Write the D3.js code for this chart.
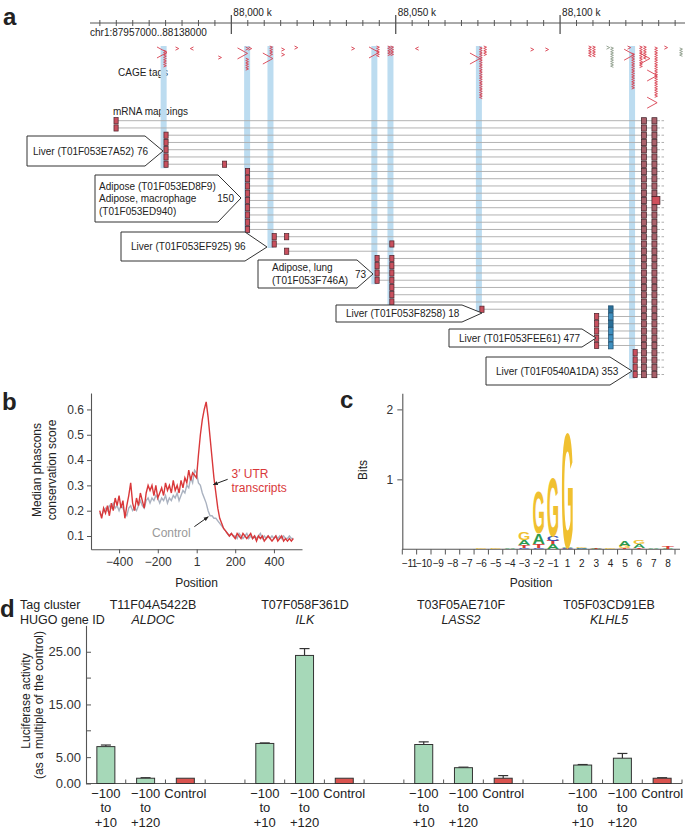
<!DOCTYPE html>
<html>
<head>
<meta charset="utf-8">
<script src="https://cdn.jsdelivr.net/npm/d3@7"></script>
<style>
  body { margin: 0; background: #fff; }
  svg text { font-family: "Liberation Sans", Arial, Helvetica, sans-serif; fill: #222; }
</style>
</head>
<body>
<div id="chart"></div>
<script>

//////////////////////////////
// panel a: genome browser  //
//////////////////////////////

var trackRange = [87957, 88138]; // kb
var rulerMajor = [88000, 88050, 88100];
var tssBands = [87979.4, 88004.8, 88011.9, 88043.5, 88048.4, 88075.3, 88121.9];
var tssBandLastRow = [6, 15, 17, 22, 25, 26, 35];

// 5' exon starts (kb) for every mRNA row, top to bottom
var mrnaRows = [
    [87964.9], [87964.9],
    [87980.1], [87980.1], [87980.1], [87980.1], [87980.1, 87997.9],
    [88004.9], [88004.9], [88004.9], [88004.9], [88004.9], [88004.9], [88004.9], [88004.9], [88004.9],
    [88013.0, 88016.8], [88013.0, 88048.8], [88016.8],
    [88044.3, 88048.8], [88044.3, 88048.8], [88044.3, 88048.8], [88044.3, 88048.8],
    [88048.8], [88048.8], [88048.8],
    [88076.2],
    [88111.1], [88111.1], [88111.1], [88111.1], [88111.1],
    [88122.8], [88122.8], [88122.8], [88122.8]
];
var threePrimeExons = [88125.5, 88128.7];
var rowEndKb = 88130.4;
var blueExonKb = 88115.4;
var blueExonRows = [26, 27, 28, 29, 30, 31];
var wideExonRow = 11;

// CAGE tags: [kb, stack level, kind, length, tone]
var cageTags = [
    [87978.9, 0.3, 'B'], [87979.8, 1.3, 'Z', 5.5], [87983.5, 0.3, '>'], [87988.0, 0.3, '<'],
    [87996.5, 3.1, '>'], [88003.4, 0.6, 'B'], [88004.8, 0.3, '>'], [88005.7, 0.3, '>'],
    [88004.8, 3.8, 'Z', 3.8], [88011.1, 2.2, 'B'], [88012.1, 0, 'Z', 3], [88015.7, 0.6, '>'],
    [88015.7, 2.2, '>'], [88019.7, 0, '>'], [88037.0, 0.3, '>'], [88043.4, 0.3, 'B'],
    [88044.6, 0, 'Z', 3.5], [88048.0, 0, 'Z', 3], [88048.9, 0, 'Z', 3], [88056.5, 0.3, '<'],
    [88074.1, 2.2, 'B'], [88075.9, 0.3, 'Z', 16.5], [88077.2, 0, 'Z', 3], [88091.5, 0.6, '>'],
    [88096.0, 0.6, '>'], [88109.1, 0, 'Z', 3.5], [88110.3, 0, 'Z', 3.5], [88114.6, 0, '>', 0, 'g'],
    [88115.8, 0.3, 'Z', 6.5, 'g'], [88121.0, 0, '>'], [88121.0, 1, 'B'], [88122.2, 2.2, 'Z', 11.5],
    [88124.6, 0, 'Z', 7], [88125.8, 0, 'Z', 4.5], [88125.8, 2.2, 'B'], [88128.0, 7.5, 'B'],
    [88129.2, 0.3, 'Z', 16], [88128.0, 16, 'B'], [88132.2, 0, '>'], [88136.8, 0.6, 'Z', 3, 'g']
];

var calloutLines = [
    ["Liver (T01F053E7A52) 76"],
    ["Adipose (T01F053ED8F9)", "Adipose, macrophage", "(T01F053ED940)"],
    ["Liver (T01F053EF925) 96"],
    ["Adipose, lung", "(T01F053F746A)"],
    ["Liver (T01F053F8258) 18"],
    ["Liver (T01F053FEE61) 477"],
    ["Liver (T01F0540A1DA) 353"]
];
var calloutCounts = [null, "150", null, "73", null, null, null];
// layout of the arrow boxes: left, top, bottom, shoulder x, tip x, tip y
var calloutBoxes = [
    [27, 136, 166, 145, 163, 151],
    [95, 175, 222, 218, 241, 198],
    [121, 232, 261, 245, 267, 247],
    [258, 260, 288, 357, 373, 274],
    [336, 305, 322, 462, 482, 313],
    [449, 329, 347, 582, 596, 338],
    [486, 357, 385, 610, 632, 371]
];

//////////////////////////////
// panel b: conservation     //
//////////////////////////////
var phastPositions = d3.range(-500, 501, 10);
var utrScore = [
    0.20, 0.17, 0.21, 0.19, 0.22, 0.18, 0.23, 0.20, 0.25, 0.22,
    0.26, 0.21, 0.24, 0.17, 0.22, 0.26, 0.31, 0.23, 0.20, 0.25,
    0.22, 0.27, 0.24, 0.21, 0.27, 0.30, 0.28, 0.30, 0.26, 0.30,
    0.25, 0.27, 0.29, 0.26, 0.31, 0.28, 0.30, 0.27, 0.32, 0.28,
    0.30, 0.27, 0.32, 0.29, 0.33, 0.31, 0.36, 0.32, 0.35, 0.34,
    0.33, 0.42, 0.50, 0.56, 0.60, 0.63, 0.57, 0.49, 0.41, 0.33,
    0.27, 0.21, 0.17, 0.15, 0.13, 0.12, 0.11, 0.10, 0.11, 0.10,
    0.09, 0.11, 0.10, 0.09, 0.11, 0.10, 0.09, 0.10, 0.11, 0.09,
    0.10, 0.08, 0.10, 0.09, 0.10, 0.08, 0.09, 0.10, 0.09, 0.08,
    0.09, 0.10, 0.08, 0.09, 0.10, 0.08, 0.09, 0.08, 0.09, 0.08,
    0.09
];
var controlScore = [
    0.19, 0.18, 0.20, 0.21, 0.20, 0.22, 0.21, 0.23, 0.21, 0.22,
    0.20, 0.22, 0.21, 0.19, 0.18, 0.21, 0.22, 0.20, 0.21, 0.20,
    0.22, 0.24, 0.22, 0.21, 0.24, 0.25, 0.23, 0.25, 0.24, 0.26,
    0.25, 0.23, 0.25, 0.24, 0.26, 0.23, 0.25, 0.24, 0.26, 0.25,
    0.27, 0.24, 0.26, 0.28, 0.27, 0.30, 0.29, 0.33, 0.31, 0.36,
    0.35, 0.31, 0.30, 0.27, 0.25, 0.23, 0.20, 0.18, 0.18, 0.17,
    0.17, 0.16, 0.15, 0.14, 0.13, 0.12, 0.11, 0.10, 0.11, 0.10,
    0.10, 0.09, 0.11, 0.10, 0.09, 0.10, 0.11, 0.09, 0.10, 0.09,
    0.10, 0.09, 0.10, 0.11, 0.09, 0.10, 0.09, 0.10, 0.09, 0.10,
    0.09, 0.10, 0.09, 0.10, 0.09, 0.10, 0.09, 0.09, 0.10, 0.09,
    0.09
];
var phastYTicks = [0.1, 0.2, 0.3, 0.4, 0.5, 0.6];
var phastXTicks = [-400, -200, 1, 200, 400];

//////////////////////////////
// panel c: sequence logo    //
//////////////////////////////
var logoPositions = [-11, -10, -9, -8, -7, -6, -5, -4, -3, -2, -1, 1, 2, 3, 4, 5, 6, 7, 8];
// letters bottom -> top, [base, bits]
var logoStacks = [
    [], [], [], [], [],
    [['G', 0.01]], [['G', 0.01]], [['A', 0.01]],
    [['C', 0.02], ['T', 0.04], ['A', 0.08], ['G', 0.11]],
    [['C', 0.02], ['T', 0.06], ['A', 0.16], ['G', 0.61]],
    [['A', 0.07], ['T', 0.05], ['C', 0.07], ['G', 0.87]],
    [['T', 0.01], ['C', 0.01], ['A', 0.02], ['G', 1.71]],
    [['C', 0.01], ['A', 0.01], ['G', 0.02]],
    [['T', 0.01], ['A', 0.01]],
    [['G', 0.008]],
    [['T', 0.02], ['G', 0.03], ['A', 0.07]],
    [['T', 0.02], ['A', 0.05], ['G', 0.06]],
    [['A', 0.01]],
    [['A', 0.01], ['T', 0.03]]
];

//////////////////////////////
// panel d: luciferase       //
//////////////////////////////
var tagClusters = ["T11F04A5422B", "T07F058F361D", "T03F05AE710F", "T05F03CD91EB"];
var geneIds = ["ALDOC", "ILK", "LASS2", "KLHL5"];
var constructLabels = [["\u2212100", "to", "+10"], ["\u2212100", "to", "+120"], ["Control"]];
var luciferaseMean = [[7.0, 1.0, 1.0], [7.6, 24.3, 1.0], [7.4, 3.0, 1.0], [3.5, 4.8, 1.0]];
var luciferaseErr = [[0.3, 0.1, 0], [0.1, 1.3, 0], [0.5, 0.1, 0.5], [0.1, 0.9, 0.1]];
var lucLabelTicks = [0, 5, 15, 25];
var lucMinorTicks = [10, 20];


/////////////////////////////////////////////////////////////////////////

var width = 685, height = 829;
var svg = d3.select("#chart").append("svg")
    .attr("width", width)
    .attr("height", height);

var axisColor = "#555";
var minus = function(v) { return v < 0 ? "\u2212" + Math.abs(v) : String(v); };

function panelLetter(t, x, y) {
    svg.append("text").attr("x", x).attr("y", y).text(t)
        .attr("font-size", 24).attr("font-weight", "bold");
}
panelLetter("a", 3, 25);
panelLetter("b", 2, 410);
panelLetter("c", 340, 408);
panelLetter("d", 0, 617);

// ---------------- panel a ----------------
var ga = svg.append("g");
var xg = d3.scaleLinear().domain(trackRange).range([90, 685]);
var yRow = d3.scaleLinear().domain([0, 35]).range([120.7, 374.5]);
var cageY = d3.scaleLinear().domain([0, 1]).range([46, 49.2]);

// ruler
ga.append("line")
    .attr("x1", xg(trackRange[0])).attr("x2", xg(trackRange[1]))
    .attr("y1", 23).attr("y2", 23)
    .attr("stroke", axisColor);
var minorTicks = d3.range(87960, trackRange[1], 5).filter(function(v) { return rulerMajor.indexOf(v) < 0; });
ga.selectAll("line.minor").data(minorTicks).enter().append("line")
    .attr("x1", xg).attr("x2", xg).attr("y1", 20).attr("y2", 26)
    .attr("stroke", axisColor);
ga.selectAll("line.major").data(rulerMajor).enter().append("line")
    .attr("x1", xg).attr("x2", xg).attr("y1", 15).attr("y2", 34)
    .attr("stroke", axisColor).attr("stroke-width", 1.3);
ga.selectAll("text.major").data(rulerMajor).enter().append("text")
    .attr("x", function(d) { return xg(d) + 2; }).attr("y", 16)
    .attr("font-size", 10)
    .text(function(d) { return d3.format(",")(d) + " k"; });
ga.append("text").attr("x", 90).attr("y", 36).attr("font-size", 10)
    .text("chr1:" + trackRange[0] + "000.." + trackRange[1] + "000");

ga.append("text").attr("x", 118).attr("y", 75.5).attr("font-size", 10).text("CAGE tags");
ga.append("text").attr("x", 113).attr("y", 114.5).attr("font-size", 10).text("mRNA mappings");

// TSS bands
ga.selectAll("rect.band").data(tssBands).enter().append("rect")
    .attr("x", function(d) { return xg(d) - 3; })
    .attr("y", 46)
    .attr("width", 6)
    .attr("height", function(d, i) { return yRow(tssBandLastRow[i]) + 4 - 46; })
    .attr("fill", "#bcdcf0");

// row lines
mrnaRows.forEach(function(row, i) {
    var y = yRow(i);
    ga.append("line")
        .attr("x1", xg(row[0])).attr("x2", xg(rowEndKb))
        .attr("y1", y).attr("y2", y)
        .attr("stroke", "#aaa").attr("stroke-width", 0.9);
    ga.append("line")
        .attr("x1", xg(rowEndKb) + 1.5).attr("x2", xg(rowEndKb) + 4)
        .attr("y1", y).attr("y2", y)
        .attr("stroke", "#999").attr("stroke-width", 0.8);
});

// 3' exons (shared)
mrnaRows.forEach(function(row, i) {
    var y = yRow(i);
    threePrimeExons.forEach(function(kb, j) {
        var wide = (j == 1 && i == wideExonRow);
        ga.append("rect")
            .attr("x", xg(kb) - 2.5).attr("y", y - (wide ? 4 : 3))
            .attr("width", wide ? 8 : 5).attr("height", wide ? 8 : 6.2)
            .attr("fill", wide ? "#d0505c" : "#a9606a")
            .attr("stroke", "#3b1b22").attr("stroke-width", 0.7);
    });
});

// blue exon
blueExonRows.forEach(function(r) {
    ga.append("rect")
        .attr("x", xg(blueExonKb) - 2.2).attr("y", yRow(r) - 3.4)
        .attr("width", 4.6).attr("height", 6.8)
        .attr("fill", (r == 26 || r == 28) ? "#2a6f98" : "#3f8fbf")
        .attr("stroke", "#1b4b6b").attr("stroke-width", 0.7);
});

// 5' exons
mrnaRows.forEach(function(row, i) {
    var y = yRow(i);
    row.forEach(function(kb) {
        ga.append("rect")
            .attr("x", xg(kb) - 2).attr("y", y - 3.1)
            .attr("width", 4.2).attr("height", 6.2)
            .attr("fill", "#c8505e")
            .attr("stroke", "#4b2028").attr("stroke-width", 0.7);
    });
});

// CAGE tags
cageTags.forEach(function(t) {
    var x = xg(t[0]), y = cageY(t[1]), kind = t[2];
    var col = t[4] == 'g' ? "#8d9c8a" : "#d8404f";
    var p;
    if (kind == 'B') {
        p = "M" + (x - 5) + "," + y + "L" + (x + 5) + "," + (y + 5.5) + "L" + (x - 5) + "," + (y + 11);
    } else if (kind == '>') {
        p = "M" + (x - 1.6) + "," + y + "L" + (x + 1.6) + "," + (y + 1.6) + "L" + (x - 1.6) + "," + (y + 3.2);
    } else if (kind == '<') {
        p = "M" + (x + 1.6) + "," + y + "L" + (x - 1.6) + "," + (y + 1.6) + "L" + (x + 1.6) + "," + (y + 3.2);
    } else {
        var y1 = cageY(t[1] + t[3]);
        var pts = [];
        for (var yy = y, k = 0; yy <= y1; yy += 1.2, k++) {
            pts.push([x + (k % 2 ? 1.4 : -1.4), yy]);
        }
        p = d3.line()(pts);
    }
    ga.append("path").attr("d", p)
        .attr("fill", "none").attr("stroke", col).attr("stroke-width", 0.9);
});

// callouts
calloutBoxes.forEach(function(b, i) {
    var left = b[0], top = b[1], bottom = b[2], sh = b[3], tx = b[4], ty = b[5];
    ga.append("path")
        .attr("d", "M" + left + "," + top + "L" + sh + "," + top + "L" + tx + "," + ty +
            "L" + sh + "," + bottom + "L" + left + "," + bottom + "Z")
        .attr("fill", "#fff").attr("stroke", "#333").attr("stroke-width", 1);
    var lines = calloutLines[i];
    var mid = (top + bottom) / 2;
    lines.forEach(function(l, j) {
        ga.append("text")
            .attr("x", left + (lines.length > 1 ? 4 + (i == 3 ? 10 : 0) : (i == 0 ? 6 : 10)))
            .attr("y", mid + (j - (lines.length - 1) / 2) * 12.5 + 3.6)
            .attr("font-size", 10)
            .text(l);
    });
    if (calloutCounts[i]) {
        ga.append("text")
            .attr("x", tx - 7).attr("y", ty + 3.6)
            .attr("text-anchor", "end").attr("font-size", 10)
            .text(calloutCounts[i]);
    }
});

// ---------------- panel b ----------------
var gb = svg.append("g");
var xb = d3.scaleLinear().domain([-545, 545]).range([91, 302]);
var yb = d3.scaleLinear().domain([0.0475, 0.665]).range([549.3, 393]);

function styleAxis(g, fs) {
    g.select(".domain").attr("stroke", axisColor).attr("stroke-width", 1.1);
    g.selectAll(".tick line").attr("stroke", axisColor);
    g.selectAll(".tick text").attr("font-size", fs).style("fill", "#333");
}

gb.append("g").attr("transform", "translate(91,0)")
    .call(d3.axisLeft(yb).tickValues(phastYTicks).tickSize(4).tickSizeOuter(0).tickPadding(3)
        .tickFormat(d3.format(".1f")))
    .call(styleAxis, 12);
gb.append("g").attr("transform", "translate(0,549.3)")
    .call(d3.axisBottom(xb).tickValues(phastXTicks).tickSize(4).tickSizeOuter(0).tickPadding(4)
        .tickFormat(minus))
    .call(styleAxis, 12);

var phastLine = d3.line()
    .x(function(d, i) { return xb(phastPositions[i]); })
    .y(function(d) { return yb(d); });
gb.append("path").datum(controlScore).attr("d", phastLine)
    .attr("fill", "none").attr("stroke", "#aab2c0").attr("stroke-width", 1.4);
gb.append("path").datum(utrScore).attr("d", phastLine)
    .attr("fill", "none").attr("stroke", "#d9383a").attr("stroke-width", 1.4);

svg.append("defs").append("marker")
    .attr("id", "arr").attr("viewBox", "0 0 10 10").attr("refX", 9).attr("refY", 5)
    .attr("markerWidth", 5).attr("markerHeight", 5).attr("orient", "auto")
    .append("path").attr("d", "M0,1L10,5L0,9Z").attr("fill", "#222");

gb.append("line").attr("x1", xb(161)).attr("y1", yb(0.324)).attr("x2", xb(87)).attr("y2", yb(0.303))
    .attr("stroke", "#222").attr("marker-end", "url(#arr)");
gb.append("line").attr("x1", xb(-11)).attr("y1", yb(0.137)).attr("x2", xb(61)).attr("y2", yb(0.176))
    .attr("stroke", "#222").attr("marker-end", "url(#arr)");
gb.append("text").attr("x", 231.5).attr("y", 477.5).attr("font-size", 12).style("fill", "#d9383a").text("3\u2032 UTR");
gb.append("text").attr("x", 231.5).attr("y", 491.5).attr("font-size", 12).style("fill", "#d9383a").text("transcripts");
gb.append("text").attr("x", 152).attr("y", 537).attr("font-size", 12).style("fill", "#999").text("Control");

gb.append("text").attr("text-anchor", "middle").attr("font-size", 12)
    .attr("transform", "translate(41,470) rotate(-90)").text("Median phascons");
gb.append("text").attr("text-anchor", "middle").attr("font-size", 12)
    .attr("transform", "translate(56,470) rotate(-90)").text("conservation score");
gb.append("text").attr("x", 196.5).attr("y", 587).attr("text-anchor", "middle").attr("font-size", 12).text("Position");

// ---------------- panel c ----------------
var gc = svg.append("g");
var xc = d3.scaleBand().domain(logoPositions).range([402.3, 675]);
var yc = d3.scaleLinear().domain([0, 2.23]).range([549.3, 393.3]);
var letterColor = { A: "#2c9a4f", C: "#2f4fb8", G: "#f0c030", T: "#d83a34" };

gc.append("g").attr("transform", "translate(402.3,0)")
    .call(d3.axisLeft(yc).tickValues([1, 2]).tickSize(5).tickSizeOuter(0).tickPadding(4)
        .tickFormat(d3.format("d")))
    .call(styleAxis, 12);
gc.append("line").attr("x1", 402.3).attr("x2", 680).attr("y1", 549.3).attr("y2", 549.3)
    .attr("stroke", axisColor).attr("stroke-width", 1.1);
var slotEdges = logoPositions.map(function(p) { return xc(p); }).concat([xc.range()[1]]);
gc.selectAll("line.lt").data(slotEdges).enter().append("line")
    .attr("x1", function(d) { return d; }).attr("x2", function(d) { return d; })
    .attr("y1", 549.3).attr("y2", 554.5).attr("stroke", axisColor);
gc.selectAll("text.lt").data(logoPositions).enter().append("text")
    .attr("x", function(d) { return xc(d) + xc.bandwidth() / 2; })
    .attr("y", 566.5).attr("text-anchor", "middle").attr("font-size", 10)
    .attr("letter-spacing", -0.4)
    .text(minus);

logoStacks.forEach(function(stack, i) {
    var x0 = xc(logoPositions[i]) + 1, w = xc.bandwidth() - 2;
    var base = 0;
    stack.forEach(function(s) {
        var yTop = yc(base + s[1]), yBot = yc(base);
        var h = yBot - yTop;
        var t = gc.append("text").text(s[0])
            .attr("font-size", 100).attr("font-weight", "bold")
            .style("fill", letterColor[s[0]]);
        var adv = t.node().getComputedTextLength();
        t.attr("transform", "translate(" + x0 + "," + yBot + ") scale(" + (w / adv) + "," + (h / 73) + ")");
        base += s[1];
    });
});

gc.append("text").attr("text-anchor", "middle").attr("font-size", 12)
    .attr("transform", "translate(367,470) rotate(-90)").text("Bits");
gc.append("text").attr("x", 531).attr("y", 587).attr("text-anchor", "middle").attr("font-size", 12).text("Position");

// ---------------- panel d ----------------
var gd = svg.append("g");
var slotKeys = [];
tagClusters.forEach(function(c, g) {
    constructLabels.forEach(function(l, k) { slotKeys.push(g + "-" + k); });
    if (g < tagClusters.length - 1) slotKeys.push("gap" + g);
});
var xd = d3.scaleBand().domain(slotKeys).range([86, 682]);
var yd = d3.scaleLinear().domain([0, 30]).range([783.5, 625.4]);
var barW = 18;
var headerX = [153, 305, 461, 609];

gd.append("g").attr("transform", "translate(86,0)")
    .call(d3.axisLeft(yd).tickValues(lucLabelTicks).tickSize(-5).tickSizeOuter(0).tickPadding(5)
        .tickFormat(d3.format(".2f")))
    .call(styleAxis, 13);
gd.selectAll("line.minorY").data(lucMinorTicks).enter().append("line")
    .attr("x1", 86).attr("x2", 91)
    .attr("y1", yd).attr("y2", yd)
    .attr("stroke", axisColor);
gd.append("line").attr("x1", 86).attr("x2", 682).attr("y1", yd(0)).attr("y2", yd(0))
    .attr("stroke", axisColor).attr("stroke-width", 1.1);
gd.selectAll("line.st").data(slotKeys).enter().append("line")
    .attr("x1", function(d) { return xd(d) + xd.bandwidth(); })
    .attr("x2", function(d) { return xd(d) + xd.bandwidth(); })
    .attr("y1", yd(0)).attr("y2", yd(0) - 4).attr("stroke", axisColor);

gd.append("text").attr("x", 20).attr("y", 608.5).attr("font-size", 12.5).text("Tag cluster");
gd.append("text").attr("x", 20).attr("y", 623.5).attr("font-size", 12.5).text("HUGO gene ID");

tagClusters.forEach(function(c, g) {
    gd.append("text").attr("x", headerX[g]).attr("y", 608.5).attr("text-anchor", "middle")
        .attr("font-size", 12.5).text(c);
    gd.append("text").attr("x", headerX[g]).attr("y", 623.5).attr("text-anchor", "middle")
        .attr("font-size", 12.5).attr("font-style", "italic").text(geneIds[g]);

    constructLabels.forEach(function(lab, k) {
        var key = g + "-" + k;
        var cx = xd(key) + xd.bandwidth() / 2;
        var v = luciferaseMean[g][k], e = luciferaseErr[g][k];
        if (e > 0) {
            gd.append("line").attr("x1", cx).attr("x2", cx).attr("y1", yd(v)).attr("y2", yd(v + e))
                .attr("stroke", "#333").attr("stroke-width", 1.2);
            gd.append("line").attr("x1", cx - 5).attr("x2", cx + 5).attr("y1", yd(v + e)).attr("y2", yd(v + e))
                .attr("stroke", "#333").attr("stroke-width", 1.2);
        }
        gd.append("rect")
            .attr("x", cx - barW / 2).attr("y", yd(v))
            .attr("width", barW).attr("height", yd(0) - yd(v))
            .attr("fill", k == 2 ? "#d9534f" : "#a6d8b8")
            .attr("stroke", "#333").attr("stroke-width", 1);
        lab.forEach(function(line, j) {
            gd.append("text").attr("x", cx).attr("y", 797.5 + j * 14.7)
                .attr("text-anchor", "middle").attr("font-size", 13).text(line);
        });
    });
});

gd.append("text").attr("text-anchor", "middle").attr("font-size", 12)
    .attr("transform", "translate(29.5,701) rotate(-90)").text("Luciferase activity");
gd.append("text").attr("text-anchor", "middle").attr("font-size", 12)
    .attr("transform", "translate(42.5,705) rotate(-90)").text("(as a multiple of the control)");

</script>
</body>
</html>
